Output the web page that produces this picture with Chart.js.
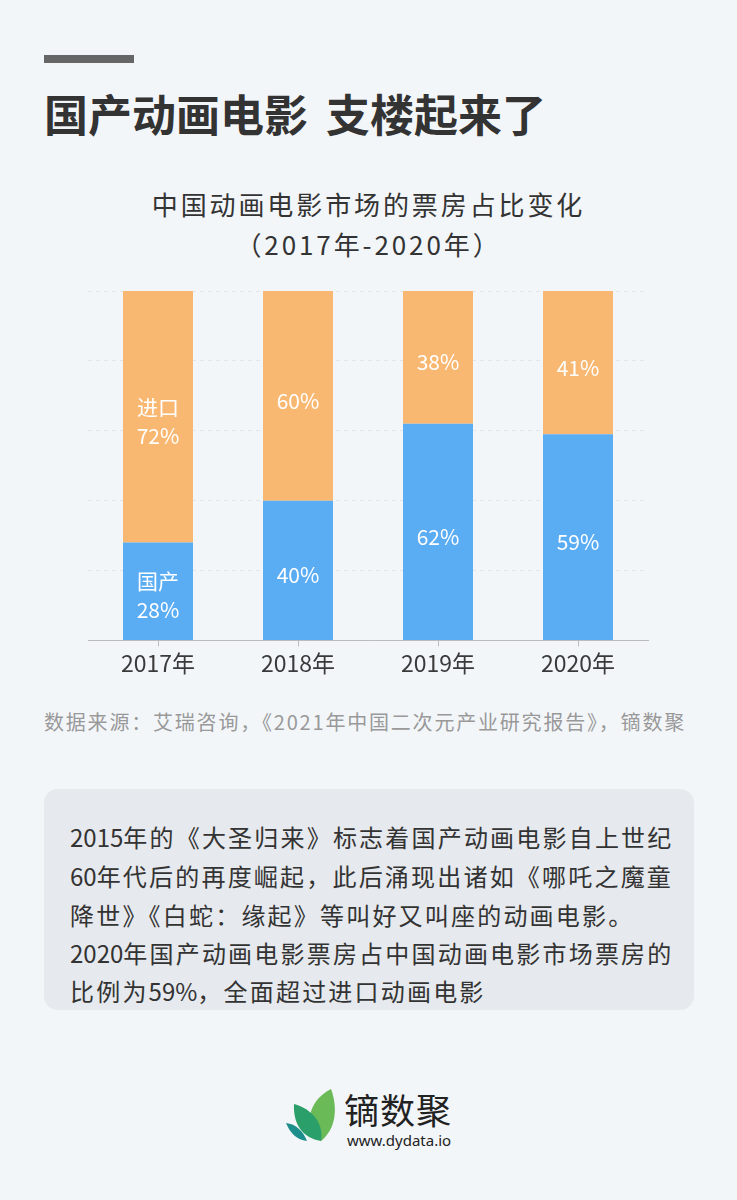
<!DOCTYPE html>
<html>
<head>
<meta charset="utf-8">
<script src="https://cdn.jsdelivr.net/npm/chart.js@4"></script>
<style>
  html, body { margin: 0; padding: 0; }
  body {
    width: 737px; height: 1200px; position: relative; overflow: hidden;
    background: #f3f6f9;
    font-family: "Noto Sans CJK SC", "Noto Sans", sans-serif;
    color: #333;
  }
  .topbar { position: absolute; left: 44px; top: 55px; width: 90px; height: 8px; background: #666; }
  .headline { position: absolute; left: 44px; top: 83px; font-size: 44px; font-weight: 700; line-height: 60px; color: #333; white-space: nowrap; }
  .ctitle { position: absolute; left: 0; width: 737px; text-align: center; font-size: 26px; letter-spacing: 2.9px; line-height: 36px; color: #333; }
  #chartWrap { position: absolute; left: 0; top: 270px; width: 737px; height: 410px; }
  .source { position: absolute; left: 44px; top: 708px; font-size: 20px; letter-spacing: 1.8px; line-height: 28px; color: #999; white-space: nowrap; }
  .box { position: absolute; left: 44px; top: 789px; width: 650px; height: 221px; background: #e6e9ed; border-radius: 14px; }
  .box .line { position: absolute; left: 26px; font-size: 24px; letter-spacing: 2.2px; line-height: 34px; color: #333; white-space: nowrap; }
  .box .n { letter-spacing: 0; }
  .logo { position: absolute; left: 284px; top: 1086px; }
  .logo .name { position: absolute; left: 60px; top: 1px; font-size: 35px; line-height: 44px; color: #222; letter-spacing: 1px; white-space: nowrap; }
  .logo .url { position: absolute; left: 63px; top: 45px; font-size: 15px; line-height: 18px; color: #222; white-space: nowrap; font-family: "Noto Sans", sans-serif; }
</style>
</head>
<body>
<div class="topbar"></div>
<div class="headline">国产动画电影<span style="margin-left:18px">支楼起来了</span></div>
<div class="ctitle" style="top:186px">中国动画电影市场的票房占比变化</div>
<div class="ctitle" style="top:226px">（2017年-2020年）</div>

<div id="chartWrap"><canvas id="shareChart"></canvas></div>

<div class="source">数据来源：艾瑞咨询，《2021年中国二次元产业研究报告》，镝数聚</div>

<div class="box">
  <div class="line" style="top:31px"><span class="n">2015</span>年的《大圣归来》标志着国产动画电影自上世纪</div>
  <div class="line" style="top:70px"><span class="n">60</span>年代后的再度崛起，此后涌现出诸如《哪吒之魔童</div>
  <div class="line" style="top:109px">降世》《白蛇：缘起》等叫好又叫座的动画电影。</div>
  <div class="line" style="top:147px"><span class="n">2020</span>年国产动画电影票房占中国动画电影市场票房的</div>
  <div class="line" style="top:185px">比例为<span class="n">59%</span>，全面超过进口动画电影</div>
</div>

<div class="logo">
  <svg width="60" height="60" viewBox="0 0 60 60" style="position:absolute;left:0;top:0">
    <path d="M37 55 C20 42 22 16 47 3 C54 22 52 43 37 55 Z" fill="#6abb58"/>
    <path d="M23 55 C13 54 6 47 2 37 C12 38 19 45 23 55 Z" fill="#1c8e8c"/>
    <path d="M37 55 C19 52 9 39 10 18 C28 23 40 37 37 55 Z" fill="#2b9f69"/>
  </svg>
  <div class="name">镝数聚</div>
  <div class="url">www.dydata.io</div>
</div>

<script>
"use strict";

const years = ['2017年', '2018年', '2019年', '2020年'];
const domestic = [28, 40, 62, 59];
const imported = [72, 60, 38, 41];
const seriesNames = ['国产', '进口'];
const yTicks = [0, 20, 40, 60, 80, 100];

const FONT = '"Noto Sans CJK SC", "Noto Sans", sans-serif';

// white percentage labels in the middle of each segment; first bar also gets the series name
const segmentLabels = {
    id: 'segmentLabels',
    afterDatasetsDraw(chart) {
        const ctx = chart.ctx;
        ctx.save();
        ctx.fillStyle = '#ffffff';
        ctx.font = `21px ${FONT}`;
        ctx.textAlign = 'center';
        ctx.textBaseline = 'middle';
        chart.data.datasets.forEach((ds, di) => {
            const meta = chart.getDatasetMeta(di);
            meta.data.forEach((bar, i) => {
                const mid = (bar.y + bar.base) / 2 + 5;
                const txt = ds.data[i] + '%';
                if (i === 0) {
                    ctx.fillText(seriesNames[di], bar.x, mid - 15);
                    ctx.fillText(txt, bar.x, mid + 14);
                } else {
                    ctx.fillText(txt, bar.x, mid);
                }
            });
        });
        ctx.restore();
    }
};

const ctx = document.getElementById('shareChart').getContext('2d');
new Chart(ctx, {
    type: 'bar',
    data: {
        labels: years,
        datasets: [
            {
                label: seriesNames[0],
                data: domestic,
                backgroundColor: '#5aacf3',
                borderWidth: 0,
                barPercentage: 0.5,
                categoryPercentage: 1
            },
            {
                label: seriesNames[1],
                data: imported,
                backgroundColor: '#f9b872',
                borderWidth: 0,
                barPercentage: 0.5,
                categoryPercentage: 1
            }
        ]
    },
    options: {
        responsive: true,
        maintainAspectRatio: false,
        animation: false,
        layout: { padding: { top: 21, left: 88, right: 89, bottom: 0 } },
        plugins: {
            legend: { display: false },
            tooltip: { enabled: false }
        },
        scales: {
            x: {
                stacked: true,
                grid: {
                    display: true,
                    drawOnChartArea: false,
                    drawTicks: true,
                    tickLength: 6,
                    offset: false,
                    color: '#bbbbbb'
                },
                border: { display: true, color: '#bbbbbb', width: 1 },
                ticks: {
                    padding: 3,
                    color: '#3a3a3a',
                    font: { family: FONT, size: 23 }
                }
            },
            y: {
                stacked: true,
                min: yTicks[0],
                max: yTicks[yTicks.length - 1],
                afterBuildTicks: (scale) => { scale.ticks = yTicks.map(v => ({ value: v })); },
                grid: {
                    color: '#e2e6ea',
                    lineWidth: 1,
                    drawTicks: false
                },
                border: { display: false, dash: [4, 4] },
                ticks: { display: false }
            }
        }
    },
    plugins: [segmentLabels]
});
</script>
</body>
</html>
